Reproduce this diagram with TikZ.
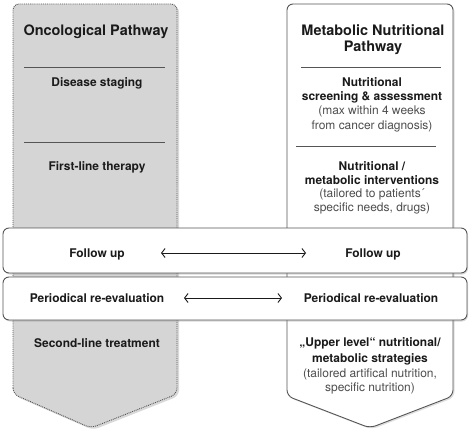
\documentclass[tikz,border=0pt]{standalone}
\usepackage{fontspec}
\setmainfont{TeX Gyre Heros}
\usetikzlibrary{arrows.meta,shadows}
\definecolor{txt}{HTML}{1A1A1A}
\definecolor{sub}{HTML}{4D4D4D}
\definecolor{edge}{HTML}{555555}
\definecolor{onco}{HTML}{D5D5D5}
\begin{document}
\begin{tikzpicture}[x=1bp,y=-1bp,
  title/.style={font=\fontsize{14.5}{16}\selectfont\bfseries, text=txt, anchor=base, inner sep=0pt},
  head/.style={font=\fontsize{12}{14}\selectfont\bfseries, text=txt, anchor=base, inner sep=0pt},
  note/.style={font=\fontsize{12}{14}\selectfont, text=sub, anchor=base, inner sep=0pt},
  sepline/.style={draw=edge, line width=0.8bp},
  link/.style={draw=txt, line width=0.9bp, {Straight Barb[length=3.5bp,width=9bp]}-{Straight Barb[length=3.5bp,width=9bp]}},
  oncopath/.style={fill=onco, draw=edge, densely dotted, line width=0.9bp, rounded corners=6bp,
     drop shadow={opacity=0.3, shadow xshift=2bp, shadow yshift=-2bp}},
  nutripath/.style={fill=white, draw=edge, line width=0.9bp, rounded corners=6bp,
     drop shadow={opacity=0.25, shadow xshift=1.5bp, shadow yshift=-1.5bp}},
  band/.style={fill=white, draw=edge, line width=0.9bp, rounded corners=6bp,
     drop shadow={opacity=0.3, shadow xshift=1bp, shadow yshift=-1.5bp}}
]
\useasboundingbox (0,0) rectangle (474,437);

% pathways
\path[oncopath] (13,394) -- (13,4) -- (177,4) -- (177,394) -- (91,428) -- cycle;
\path[nutripath] (287,396) -- (287,4) -- (453,4) -- (453,396) -- (370,428) -- cycle;

% bands
\path[band] (3,228) rectangle (467,273);
\path[band] (3,277) rectangle (467,320);

% separators
\coordinate (ls1a) at (24,67);  \coordinate (ls1b) at (165,67);
\coordinate (ls2a) at (24,142); \coordinate (ls2b) at (165,142);
\coordinate (rs1a) at (301,67); \coordinate (rs1b) at (441,67);
\coordinate (rs2a) at (296,146); \coordinate (rs2b) at (436,146);
\draw[sepline] (ls1a) -- (ls1b);
\draw[sepline] (ls2a) -- (ls2b);
\draw[sepline] (rs1a) -- (rs1b);
\draw[sepline] (rs2a) -- (rs2b);

% left column
\node[title] (lt) at (96,36) {Oncological Pathway};
\node[head] (ld) at (97,87) {Disease staging};
\node[head] (lf) at (97,171) {First-line therapy};
\node[head] (lfu) at (97,257) {Follow up};
\node[head] (lpr) at (97,302) {Periodical re-evaluation};
\node[head] (lsl) at (97,347) {Second-line treatment};

% right column
\node[title] (rt1) at (373,36) {Metabolic Nutritional};
\node[title] (rt2) at (373,52) {Pathway};
\node[head] (ra1) at (372,87) {Nutritional};
\node[head] (ra2) at (372,101) {screening \& assessment};
\node[note] (ra3) at (372,115) {(max within 4 weeks};
\node[note] (ra4) at (372,130) {from cancer diagnosis)};
\node[head] (rb1) at (372,171) {Nutritional /};
\node[head] (rb2) at (372,185) {metabolic interventions};
\node[note] (rb3) at (372,198) {(tailored to patients´};
\node[note] (rb4) at (372,212) {specific needs, drugs)};
\node[head] (rfu) at (373,257) {Follow up};
\node[head] (rpr) at (371,302) {Periodical re-evaluation};
\node[head] (rc1) at (370,346) {„Upper level“ nutritional/};
\node[head] (rc2) at (370,362) {metabolic strategies};
\node[note] (rc3) at (370,377) {(tailored artifical nutrition,};
\node[note] (rc4) at (370,391) {specific nutrition)};

% arrows
\coordinate (fuL) at (161,253); \coordinate (fuR) at (306,253);
\coordinate (prL) at (184,298); \coordinate (prR) at (282,298);
\draw[link] (fuL) -- (fuR);
\draw[link] (prL) -- (prR);
\end{tikzpicture}
\end{document}
